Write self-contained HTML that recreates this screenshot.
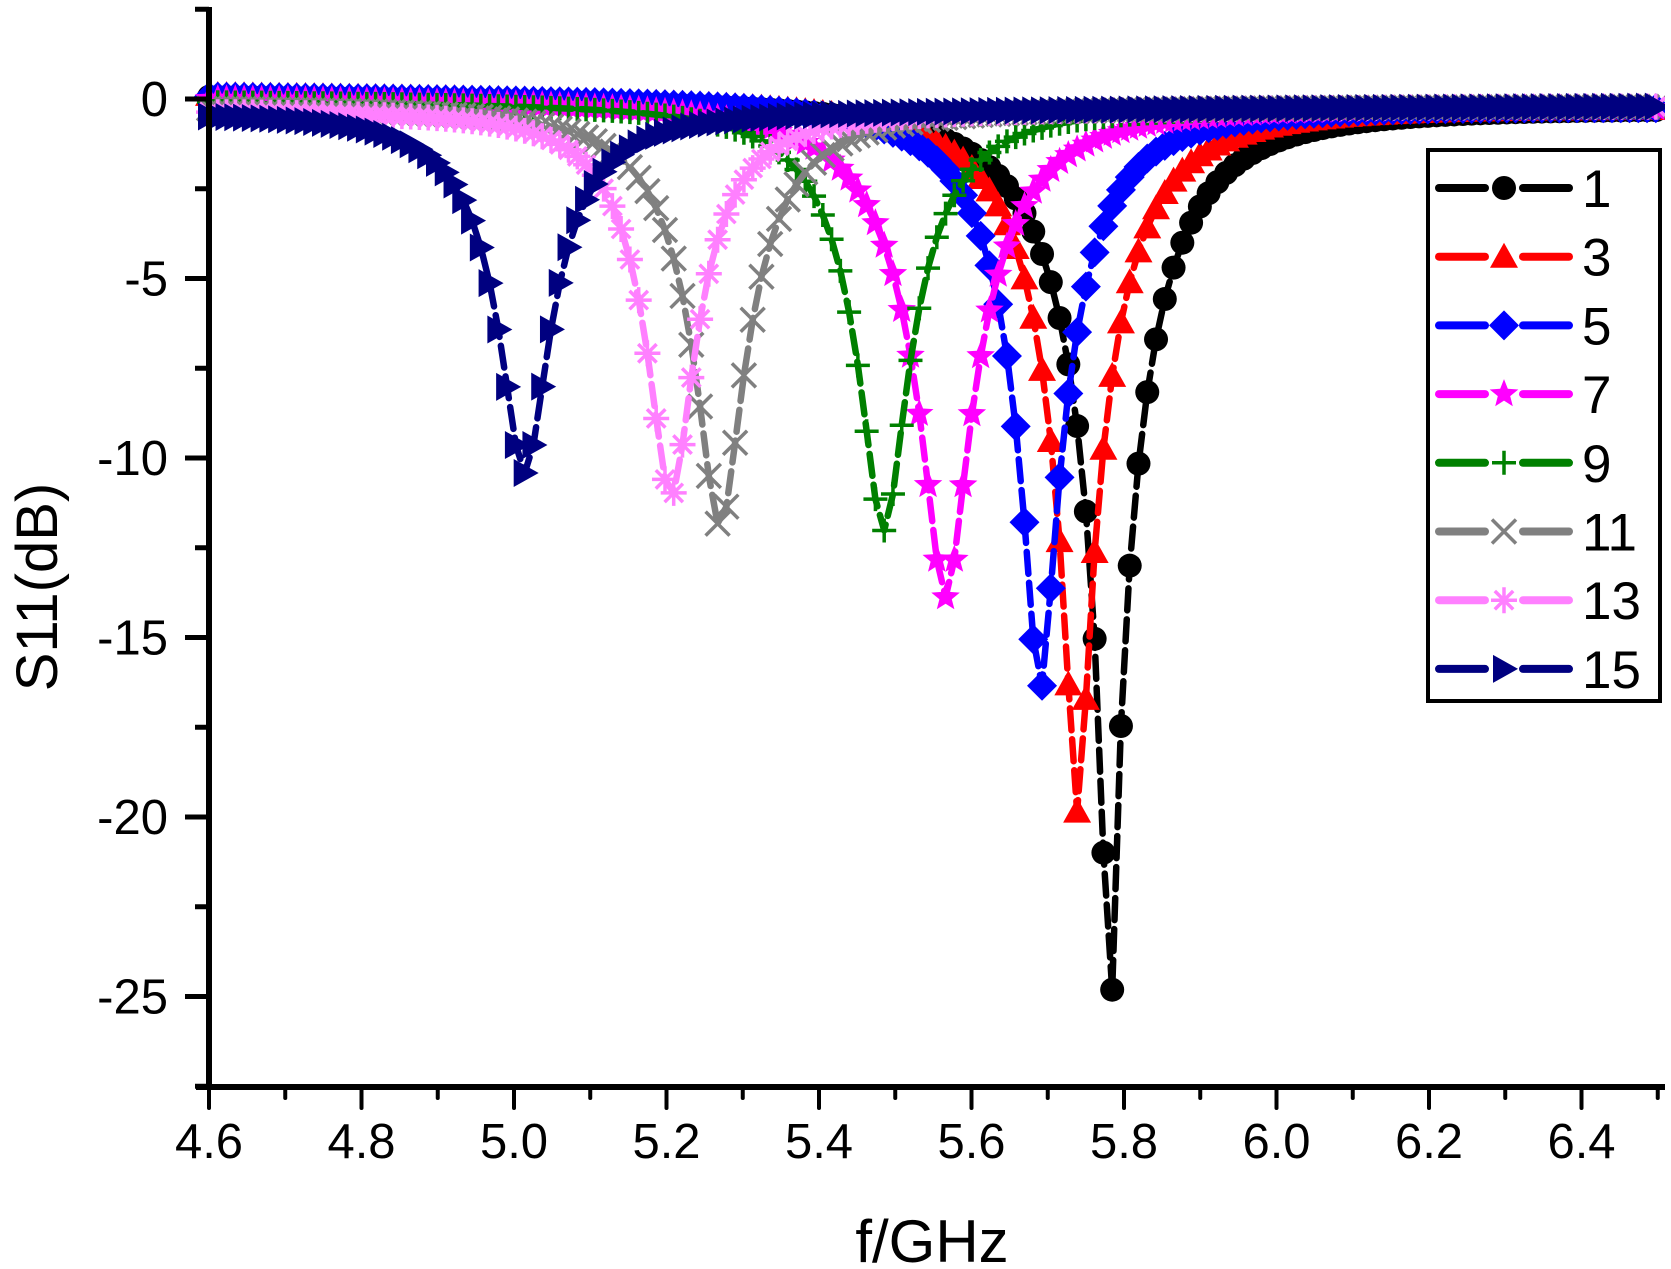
<!DOCTYPE html>
<html><head><meta charset="utf-8">
<style>
html,body{margin:0;padding:0;background:#fff;}
svg{display:block;font-family:"Liberation Sans",Arial,sans-serif;}
</style></head>
<body>
<svg id="s" width="1671" height="1269" viewBox="0 0 1671 1269" xmlns="http://www.w3.org/2000/svg">
<rect width="1671" height="1269" fill="#fff"/>
<g id="plot"></g>
<g id="axes"></g>
</svg>
<script>
(function(){
var NS="http://www.w3.org/2000/svg";
var X0=209, PX=762.5, Y0=99, PY=35.9;
function xp(f){return X0+(f-4.6)*PX;}
function yp(d){return Y0-d*PY;}
function el(t,a,p){var e=document.createElementNS(NS,t);for(var k in a)e.setAttribute(k,a[k]);(p||document.getElementById('plot')).appendChild(e);return e;}
var series=[
 {n:"1",c:"#000000",f0:5.7815,w:0.115,m:-25.7,L:0.1,m_:"circle"},
 {n:"3",c:"#ff0000",f0:5.739,w:0.103,m:-19.8,L:0.15,m_:"tri"},
 {n:"5",c:"#0000ff",f0:5.690,w:0.094,m:-16.4,L:0.1,m_:"diamond"},
 {n:"7",c:"#ff00ff",f0:5.566,w:0.105,m:-13.8,L:0.05,m_:"star"},
 {n:"9",c:"#008000",f0:5.485,w:0.088,m:-11.9,L:-0.05,m_:"plus"},
 {n:"11",c:"#808080",f0:5.270,w:0.086,m:-11.7,L:-0.2,m_:"x"},
 {n:"13",c:"#ff80ff",f0:5.206,w:0.078,m:-10.8,L:-0.3,m_:"ast"},
 {n:"15",c:"#000080",f0:5.014,w:0.078,m:-10.1,L:-0.35,m_:"rtri"}
];
function val(s,f){
 var base=s.L+(-0.2-s.L)*(f-4.6)/1.9;
 var mm=Math.pow(10,s.m/10), u=(f-s.f0)/s.w;
 var g=1-(1-mm)/(1+u*u);
 return 10*Math.log10(g)+base;
}
function marker(type,x,y,c,p){
 switch(type){
 case "circle": el("circle",{cx:x,cy:y,r:12,fill:c},p);break;
 case "tri": el("polygon",{points:(x)+","+(y-14)+" "+(x-14)+","+(y+11)+" "+(x+14)+","+(y+11),fill:c},p);break;
 case "diamond": el("polygon",{points:x+","+(y-15)+" "+(x+15)+","+y+" "+x+","+(y+15)+" "+(x-15)+","+y,fill:c},p);break;
 case "star": var pts=[];for(var i=0;i<10;i++){var r=i%2?6.5:15,a=-Math.PI/2+i*Math.PI/5;pts.push((x+r*Math.cos(a)).toFixed(1)+","+(y+r*Math.sin(a)).toFixed(1));}
   el("polygon",{points:pts.join(" "),fill:c},p);break;
 case "plus": el("path",{d:"M"+(x-12)+" "+y+"H"+(x+12)+"M"+x+" "+(y-12)+"V"+(y+12),stroke:c,"stroke-width":3.5,fill:"none"},p);break;
 case "x": el("path",{d:"M"+(x-12)+" "+(y-12)+"L"+(x+12)+" "+(y+12)+"M"+(x+12)+" "+(y-12)+"L"+(x-12)+" "+(y+12),stroke:c,"stroke-width":3.5,fill:"none"},p);break;
 case "ast": var d="";for(var i=0;i<4;i++){var a=i*Math.PI/4;d+="M"+(x-13*Math.cos(a)).toFixed(1)+" "+(y-13*Math.sin(a)).toFixed(1)+"L"+(x+13*Math.cos(a)).toFixed(1)+" "+(y+13*Math.sin(a)).toFixed(1);}
   el("path",{d:d,stroke:c,"stroke-width":3.5,fill:"none"},p);break;
 case "rtri": el("polygon",{points:(x-11)+","+(y-14)+" "+(x+14)+","+y+" "+(x-11)+","+(y+14),fill:c},p);break;
 }
}
var plot=document.getElementById('plot');
series.forEach(function(s){
 var g=el("g",{},plot);
 var pts=[];
 for(var k=0;k<=165;k++){var f=4.6+k*0.0115;pts.push([xp(f),yp(val(s,f))]);}
 el("polyline",{points:pts.map(function(p){return p[0].toFixed(1)+","+p[1].toFixed(1);}).join(" "),fill:"none",stroke:s.c,"stroke-width":6.5,"stroke-dasharray":"22 9","stroke-linecap":"round","stroke-linejoin":"round"},g);
 pts.forEach(function(p){marker(s.m_,p[0],p[1],s.c,g);});
});
var ax=document.getElementById('axes');
el("rect",{x:1665,y:0,width:6,height:1269,fill:"#fff"},ax);
el("line",{x1:X0,y1:7,x2:X0,y2:1090,stroke:"#000","stroke-width":6},ax);
el("line",{x1:196,y1:1087,x2:1665,y2:1087,stroke:"#000","stroke-width":6},ax);
for(var d=2.5;d>=-27.5;d-=2.5){
 var y=yp(d), maj=Math.abs(d%5)<1e-6;
 el("line",{x1:maj?185:195,y1:y,x2:X0,y2:y,stroke:"#000","stroke-width":5},ax);
 if(maj){var t=el("text",{x:168,y:y+17,"text-anchor":"end","font-size":49,fill:"#000"},ax);t.textContent=(d===0?"0":String(d));}
}
for(var i=0;i<=19;i++){
 var f=4.6+i*0.1, x=xp(f), maj=i%2===0;
 el("line",{x1:x,y1:1087,x2:x,y2:maj?1108:1098,stroke:"#000","stroke-width":4,"stroke-linecap":"round"},ax);
 if(maj){var t=el("text",{x:x,y:1158,"text-anchor":"middle","font-size":49,fill:"#000"},ax);t.textContent=f.toFixed(1);}
}
var t=el("text",{x:932,y:1262,"text-anchor":"middle","font-size":60,fill:"#000"},ax);t.textContent="f/GHz";
t=el("text",{x:0,y:0,"text-anchor":"middle","font-size":58,fill:"#000",transform:"translate(57,587) rotate(-90)"},ax);t.textContent="S11(dB)";
el("rect",{x:1428,y:150,width:232,height:551,fill:"#fff",stroke:"#000","stroke-width":4},ax);
series.forEach(function(s,i){
 var y=188+i*68.7;
 el("line",{x1:1439,y1:y,x2:1485,y2:y,stroke:s.c,"stroke-width":8,"stroke-linecap":"round"},ax);
 el("line",{x1:1523,y1:y,x2:1569,y2:y,stroke:s.c,"stroke-width":8,"stroke-linecap":"round"},ax);
 marker(s.m_,1504,y,s.c,ax);
 var tt=el("text",{x:1582,y:y+19,"font-size":53,fill:"#000"},ax);tt.textContent=s.n;
});
})();
</script>
</body></html>
